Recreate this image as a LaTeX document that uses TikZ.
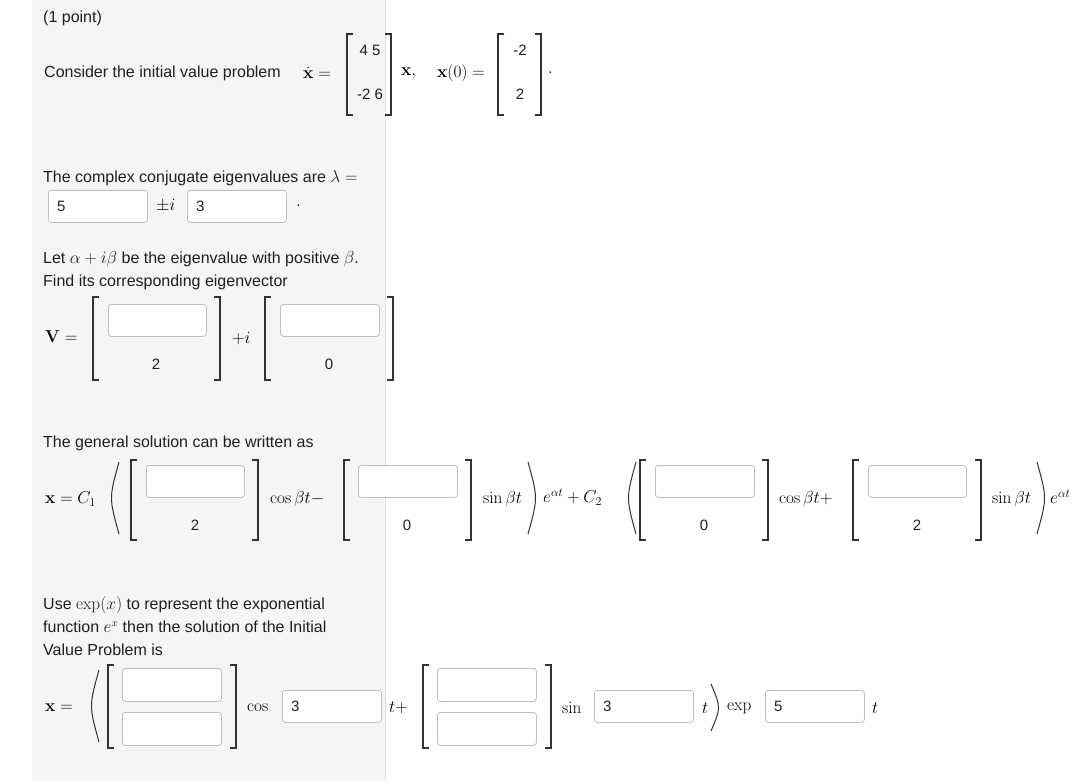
\documentclass[tikz,border=0pt]{standalone}
\usepackage{amsmath}
\usepackage[no-math]{fontspec}
\setmainfont{Liberation Sans}
\begin{document}
\begin{tikzpicture}[x=1pt,y=-1pt,
  txt/.style={anchor=west,inner sep=0pt,font=\fontsize{16}{19}\selectfont,text=black!88},
  mth/.style={anchor=west,inner sep=0pt,font=\fontsize{18}{21}\selectfont,text=black},
  ctr/.style={inner sep=0pt,font=\fontsize{15}{18}\selectfont,text=black!88},
  inbox/.style={draw=black!25,fill=white,rounded corners=3pt,line width=0.8pt},
  brk/.style={line width=1.1pt,draw=black!80}]
\useasboundingbox (0,0) rectangle (1080,781);
\fill[black!4] (32,0) rectangle (385,781);
\draw[black!12] (385,0) -- (385,781);
\newcommand{\brak}[4]{\draw[brk] (#1+6,#2)--(#1,#2)--(#1,#4)--(#1+6,#4); \draw[brk] (#3-6,#2)--(#3,#2)--(#3,#4)--(#3-6,#4);}
\newcommand{\paro}[3]{\draw[brk,line width=1pt] (#1+7,#2) .. controls (#1-3,{(#2+#3)/2}) .. (#1+7,#3);}
\newcommand{\parc}[3]{\draw[brk,line width=1pt] (#1-7,#2) .. controls (#1+3,{(#2+#3)/2}) .. (#1-7,#3);}
\newcommand{\ibox}[5]{\node[inbox,minimum width=#3-#1,minimum height=#4-#2,anchor=north west,inner sep=0pt] (#5) at (#1,#2) {};}
\newcommand{\iboxv}[6]{\ibox{#1}{#2}{#3}{#4}{#5}\node[ctr,anchor=west] at (#1+9,{(#2+#4)/2}) {#6};}

\node[txt] (pt) at (43,18) {(1 point)};
\node[txt] (c1) at (44,73) {Consider the initial value problem};
\node[mth] (c2) at (303,73) {$\dot{\mathbf x}=$};
\brak{347}{34}{391}{115}
\node[ctr] (a11) at (370,50) {4 5};
\node[ctr] (a21) at (370,94) {-2 6};
\node[mth] (c3) at (401,73) {$\mathbf x,$};
\node[mth] (c4) at (437,73) {$\mathbf x(0)=$};
\brak{498}{34}{541}{115}
\node[ctr] (b1) at (520,50) {-2};
\node[ctr] (b2) at (520,94) {2};
\node[mth] (c5) at (548,73) {$.$};

\node[txt] (e1) at (43,178) {The complex conjugate eigenvalues are $\lambda=$};
\iboxv{48}{190}{147}{222}{e2}{5}
\node[mth] (e3) at (156,206) {$\pm i$};
\iboxv{187}{190}{286}{222}{e4}{3}
\node[mth] (e5) at (296,206) {$.$};

\node[txt] (l1) at (43,259) {Let $\alpha+i\beta$ be the eigenvalue with positive $\beta$.};
\node[txt] (l2) at (43,282) {Find its corresponding eigenvector};
\node[mth] (v0) at (45,337) {$\mathbf V=$};
\brak{93}{297}{220}{380}
\ibox{108}{304}{206}{336}{v1}
\node[ctr] (v2) at (156,364) {2};
\node[mth] (v3) at (232,338) {$+i$};
\brak{265}{297}{393}{380}
\ibox{280}{304}{379}{336}{v4}
\node[ctr] (v5) at (329,364) {0};

\node[txt] (g1) at (43,443) {The general solution can be written as};
\node[mth] (g2) at (45,499) {$\mathbf x=C_1$};
\paro{112}{462}{534}
\brak{131}{460}{258}{540}
\ibox{146}{465}{244}{497}{g3}
\node[ctr] (g4) at (195,525) {2};
\node[mth] (g5) at (270,499) {$\cos\beta t-$};
\brak{344}{460}{471}{540}
\ibox{358}{465}{457}{497}{g6}
\node[ctr] (g7) at (407,525) {0};
\node[mth] (g8) at (483,499) {$\sin\beta t$};
\parc{535}{462}{534}
\node[mth] (g9) at (543,497) {$e^{\alpha t}+C_2$};
\paro{629}{462}{534}
\brak{640}{460}{768}{540}
\ibox{655}{465}{754}{497}{g10}
\node[ctr] (g11) at (704,525) {0};
\node[mth] (g12) at (779,499) {$\cos\beta t+$};
\brak{853}{460}{981}{540}
\ibox{868}{465}{966}{497}{g13}
\node[ctr] (g14) at (917,525) {2};
\node[mth] (g15) at (992,499) {$\sin\beta t$};
\parc{1044}{462}{534}
\node[mth] (g16) at (1050,497) {$e^{\alpha t}$};

\node[txt] (u1) at (43,605) {Use $\exp(x)$ to represent the exponential};
\node[txt] (u2) at (43,627) {function $e^x$ then the solution of the Initial};
\node[txt] (u3) at (43,650) {Value Problem is};
\node[mth] (s0) at (45,708) {$\mathbf x=$};
\paro{92}{670}{742}
\brak{108}{665}{236}{748}
\ibox{122}{668}{221}{701}{s1}
\ibox{122}{712}{221}{745}{s2}
\node[mth] (s3) at (247,708) {$\cos$};
\iboxv{282}{690}{381}{722}{s4}{3}
\node[mth] (s5) at (389,708) {$t+$};
\brak{423}{665}{551}{748}
\ibox{437}{668}{536}{701}{s6}
\ibox{437}{712}{536}{745}{s7}
\node[mth] (s8) at (562,708) {$\sin$};
\iboxv{594}{690}{693}{722}{s9}{3}
\node[mth] (s10) at (702,708) {$t$};
\parc{718}{684}{731}
\node[mth] (s11) at (727,708) {$\exp$};
\iboxv{765}{690}{864}{722}{s12}{5}
\node[mth] (s13) at (872,708) {$t$};
\end{tikzpicture}
\end{document}
